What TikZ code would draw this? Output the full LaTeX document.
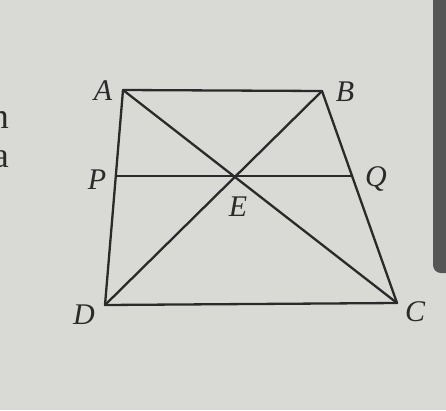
\documentclass[tikz,border=0pt]{standalone}
\usepackage{fontspec}
\setmainfont{Liberation Serif}
\definecolor{bg}{HTML}{D9D9D6}
\definecolor{ink}{HTML}{2A2A2A}
\definecolor{strip}{HTML}{555555}
\tikzset{
  seg/.style={draw=ink, line width=2.3pt, line cap=round, line join=round},
  lbl/.style={text=ink, font=\fontsize{30}{30}\selectfont\itshape, inner sep=0pt},
  frag/.style={text=ink, font=\fontsize{36}{36}\selectfont, inner sep=0pt, anchor=base east}
}
\begin{document}
\begin{tikzpicture}[x=1pt,y=-1pt]
\fill[bg] (0,0) rectangle (446,410);
\useasboundingbox (0,0) rectangle (446,410);
\fill[strip, rounded corners=8pt] (433,-20) rectangle (460,273);
% cut-off letters at left edge
\node[frag] (n1) at (9,128) {n};
\node[frag] (n2) at (9,167) {a};
% vertices
\coordinate (A) at (123,90);
\coordinate (B) at (322,91);
\coordinate (C) at (397,303);
\coordinate (D) at (105,305);
\coordinate (P) at (116,176);
\coordinate (Q) at (351,176);
\coordinate (E) at (235,176);
\draw[seg] (A) -- (B) -- (C) -- (D) -- cycle;
\draw[seg] (A) -- (C);
\draw[seg] (B) -- (D);
\draw[seg] (P) -- (Q);
% labels
\node[lbl] (lA) at (103,91) {A};
\node[lbl] (lB) at (345,92) {B};
\node[lbl] (lP) at (97,180) {P};
\node[lbl] (lQ) at (376,179) {Q};
\node[lbl] (lE) at (238,207) {E};
\node[lbl] (lD) at (84,315) {D};
\node[lbl] (lC) at (415,312) {C};
\end{tikzpicture}
\end{document}
